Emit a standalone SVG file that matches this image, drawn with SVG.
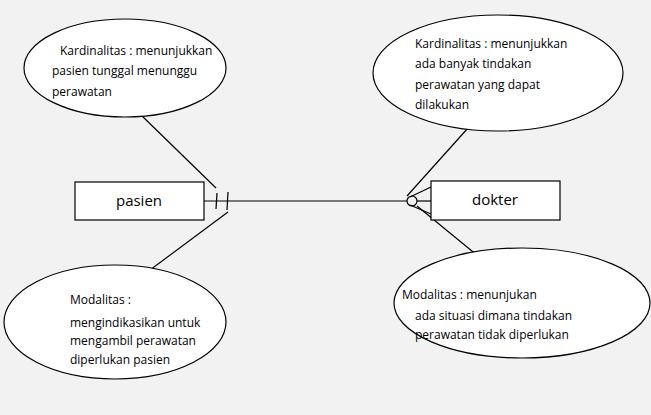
<svg xmlns="http://www.w3.org/2000/svg" width="651" height="415" viewBox="0 0 651 415">
<style>
.s{fill:none;stroke:#000;stroke-width:1.2}
.b{fill:#fff;stroke:#000;stroke-width:1.2}
text{font-family:"Open Sans","Liberation Sans",sans-serif;font-size:12px;fill:#000}
.n{font-size:15px}
</style>
<rect width="651" height="415" fill="#f2f2f2"/>
<g id="connectors">
<line class="s" x1="204" y1="201" x2="407" y2="201"/>
<line class="s" x1="217" y1="193" x2="216" y2="209"/>
<line class="s" x1="228" y1="192" x2="227" y2="210"/>
<circle class="s" cx="412" cy="201" r="5" fill="#fff"/>
<line class="s" x1="417" y1="201" x2="431" y2="201"/>
<line class="s" x1="410" y1="197" x2="431" y2="187"/>
<line class="s" x1="410" y1="205" x2="431" y2="214"/>
<line class="s" x1="140" y1="114" x2="216" y2="188"/>
<line class="s" x1="150" y1="270" x2="228" y2="212"/>
<line class="s" x1="468" y1="128" x2="407" y2="196"/>
<line class="s" x1="417" y1="206" x2="478" y2="256"/>
</g>
<g id="pasien"><rect class="b" x="75" y="182" width="129" height="38"/><text class="n" x="139" y="206" text-anchor="middle">pasien</text></g>
<g id="dokter"><rect class="b" x="431" y="181" width="129" height="39"/><text class="n" x="495" y="205" text-anchor="middle">dokter</text></g>
<g id="e1"><ellipse class="b" cx="125" cy="68" rx="101" ry="49"/>
<text x="60" y="55">Kardinalitas : menunjukkan</text><text x="52" y="75">pasien tunggal menunggu</text><text x="52" y="96">perawatan</text></g>
<g id="e2"><ellipse class="b" cx="498" cy="73" rx="125" ry="58"/>
<text x="415" y="48">Kardinalitas : menunjukkan</text><text x="415" y="68">ada banyak tindakan</text><text x="415" y="89">perawatan yang dapat</text><text x="415" y="109">dilakukan</text></g>
<g id="e3"><ellipse class="b" cx="115" cy="322" rx="111" ry="57"/>
<text x="70" y="304">Modalitas :</text><text x="70" y="327">mengindikasikan untuk</text><text x="70" y="345">mengambil perawatan</text><text x="70" y="364">diperlukan pasien</text></g>
<g id="e4"><ellipse class="b" cx="522" cy="303" rx="128" ry="55"/>
<text x="402" y="299">Modalitas : menunjukan</text><text x="415" y="320">ada situasi dimana tindakan</text><text x="415" y="339">perawatan tidak diperlukan</text></g>
</svg>
